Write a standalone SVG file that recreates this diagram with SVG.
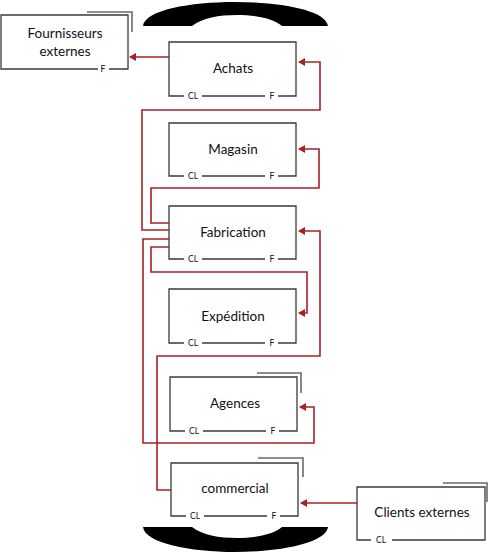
<svg xmlns="http://www.w3.org/2000/svg" width="488" height="554" viewBox="0 0 488 554">
<defs>
<style>
.box{fill:none;stroke:#3a3a3a;stroke-width:1.3}
.sh{fill:none;stroke:#6a6a6a;stroke-width:1.6}
.t{font-family:Lato,"Open Sans","Liberation Sans",sans-serif;font-size:13.5px;fill:#111;text-anchor:middle}
.s{font-family:Lato,"Open Sans","Liberation Sans",sans-serif;font-size:8.5px;fill:#111;text-anchor:middle}
.c{fill:none;stroke:#ab1f25;stroke-width:1.6}
.blk{fill:#000}
</style>
<marker id="ah" markerWidth="8" markerHeight="8" refX="6" refY="4" orient="auto" markerUnits="userSpaceOnUse">
<path d="M0,0 L7,4 L0,8 Z" fill="#ab1f25"/>
</marker>
</defs>
<rect width="488" height="554" fill="#fff"/>
<path class="blk" d="M143,26 C145,10 190,2 235,2 C280,2 326,10 328,26 L282,26 C272,18 255,15 237,15 C219,15 202,18 192,26 Z"/>
<path class="blk" d="M143,527 C145,543 190,552 235,552 C280,552 326,543 328,527 L282,527 C272,535 255,538 237,538 C219,538 202,535 192,527 Z"/>

<g id="fournisseurs">
<path class="sh" d="M87,12 H132 V32"/>
<path class="box" d="M98,69 H1 V15 H128 V69 H109"/>
<text class="s" x="103" y="72">F</text>
<text class="t" x="65" y="38">Fournisseurs</text>
<text class="t" x="65" y="56">externes</text>
</g>

<g id="achats">
<path class="box" d="M184,96 H169 V42 H296 V96 H278 M202,96 H265"/>
<text class="s" x="193" y="99">CL</text>
<text class="s" x="272" y="99">F</text>
<text class="t" x="233" y="73">Achats</text>
</g>

<g id="magasin">
<path class="box" d="M184,176 H169 V123 H296 V176 H278 M202,176 H265"/>
<text class="s" x="193" y="179">CL</text>
<text class="s" x="272" y="179">F</text>
<text class="t" x="233" y="154">Magasin</text>
</g>

<g id="fabrication">
<path class="box" d="M184,259 H169 V206 H296 V259 H278 M202,259 H265"/>
<text class="s" x="193" y="262">CL</text>
<text class="s" x="272" y="262">F</text>
<text class="t" x="233" y="237">Fabrication</text>
</g>

<g id="expedition">
<path class="box" d="M184,343 H169 V289 H296 V343 H278 M202,343 H265"/>
<text class="s" x="193" y="346">CL</text>
<text class="s" x="272" y="346">F</text>
<text class="t" x="233" y="321">Expédition</text>
</g>

<g id="agences">
<path class="sh" d="M257,373 H301 V393"/>
<path class="box" d="M185,431 H170 V377 H297 V431 H279 M203,431 H266"/>
<text class="s" x="194" y="434">CL</text>
<text class="s" x="273" y="434">F</text>
<text class="t" x="235" y="408">Agences</text>
</g>

<g id="commercial">
<path class="sh" d="M258,458 H303 V477"/>
<path class="box" d="M186,516 H171 V463 H298 V516 H280 M204,516 H267"/>
<text class="s" x="195" y="519">CL</text>
<text class="s" x="274" y="519">F</text>
<text class="t" x="235" y="493">commercial</text>
</g>

<g id="clients">
<path class="sh" d="M443,483 H487 V502"/>
<path class="box" d="M371,540 H357 V487 H485 V540 H392"/>
<text class="s" x="381" y="543">CL</text>
<text class="t" x="422" y="517">Clients externes</text>
</g>

<g id="connectors">
<path class="c" d="M169,57 H130" marker-end="url(#ah)"/>
<path class="c" d="M169,230 H142 V110 H320 V62 H299" marker-end="url(#ah)"/>
<path class="c" d="M169,223 H151 V188 H319 V149 H299" marker-end="url(#ah)"/>
<path class="c" d="M171,490 H157 V356 H320 V231 H299" marker-end="url(#ah)"/>
<path class="c" d="M169,247 H151 V272 H307 V313 H299" marker-end="url(#ah)"/>
<path class="c" d="M169,239 H143 V443 H314 V407 H300" marker-end="url(#ah)"/>
<path class="c" d="M357,503 H301" marker-end="url(#ah)"/>
</g>
</svg>
